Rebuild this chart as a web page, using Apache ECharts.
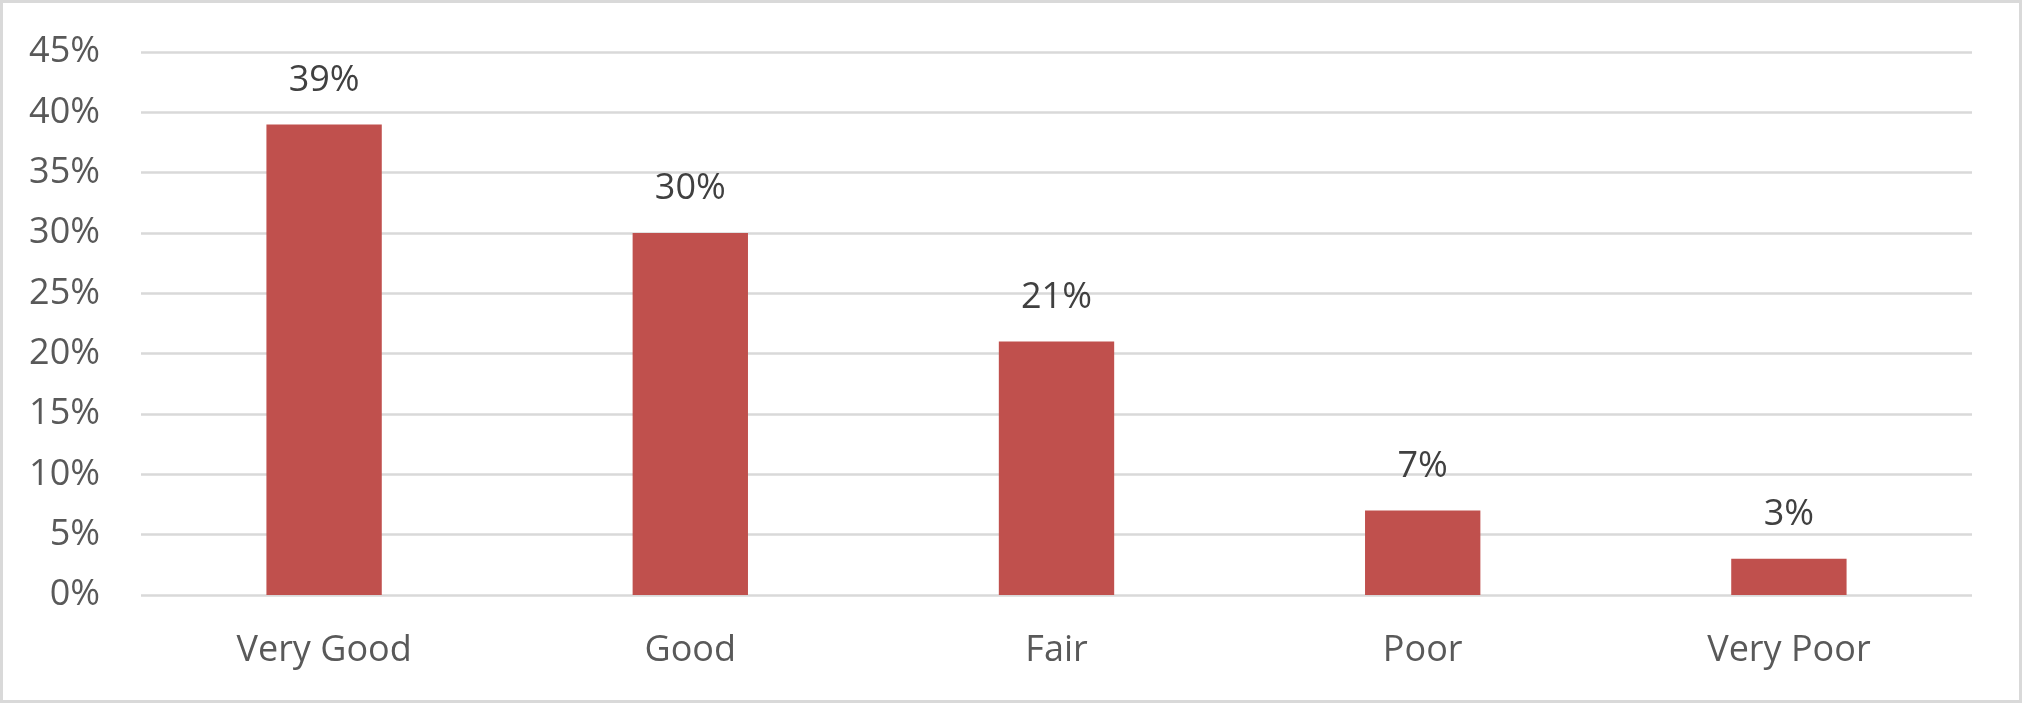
<!DOCTYPE html>
<html>
<head>
<meta charset="utf-8">
<script src="https://cdn.jsdelivr.net/npm/echarts@6/dist/echarts.min.js"></script>
<style>
  html, body { margin: 0; padding: 0; background: #fff; }
  #chart-container { width: 2029px; height: 704px; }
</style>
</head>
<body>
<div id="chart-container"></div>
<script>
var categories = ['Very Good', 'Good', 'Fair', 'Poor', 'Very Poor'];
var values = [39, 30, 21, 7, 3];
var yTicks = [0, 5, 10, 15, 20, 25, 30, 35, 40, 45];

var font = '"Open Sans", "Noto Sans", sans-serif';

var option = {
    animation: false,
    backgroundColor: '#fff',
    grid: {
        left: 141,
        right: 57,
        top: 52,
        bottom: 109
    },
    graphic: [
        {
            type: 'rect',
            shape: { x: 1.5, y: 1.5, width: 2019, height: 700 },
            style: { fill: 'none', stroke: '#d9d9d9', lineWidth: 3 },
            silent: true
        }
    ],
    xAxis: {
        type: 'category',
        data: categories,
        axisLine: { show: false },
        axisTick: { show: false },
        axisLabel: {
            color: '#595959',
            fontFamily: font,
            fontSize: 36,
            margin: 38
        }
    },
    yAxis: {
        type: 'value',
        min: yTicks[0],
        max: yTicks[yTicks.length - 1],
        interval: 5,
        axisLine: { show: false },
        axisTick: { show: false },
        axisLabel: {
            color: '#595959',
            fontFamily: font,
            fontSize: 36,
            margin: 41,
            formatter: function (v) { return v + '%'; }
        },
        splitLine: {
            lineStyle: { color: '#d9d9d9', width: 2.5 }
        }
    },
    series: [
        {
            type: 'bar',
            data: values,
            barWidth: '31.5%',
            itemStyle: { color: '#c0504d' },
            label: {
                show: true,
                position: 'top',
                distance: 26,
                color: '#404040',
                fontFamily: font,
                fontSize: 36,
                formatter: function (p) { return p.value + '%'; }
            }
        }
    ]
};

var myChart = echarts.init(document.getElementById('chart-container'));
myChart.setOption(option);
</script>
</body>
</html>
